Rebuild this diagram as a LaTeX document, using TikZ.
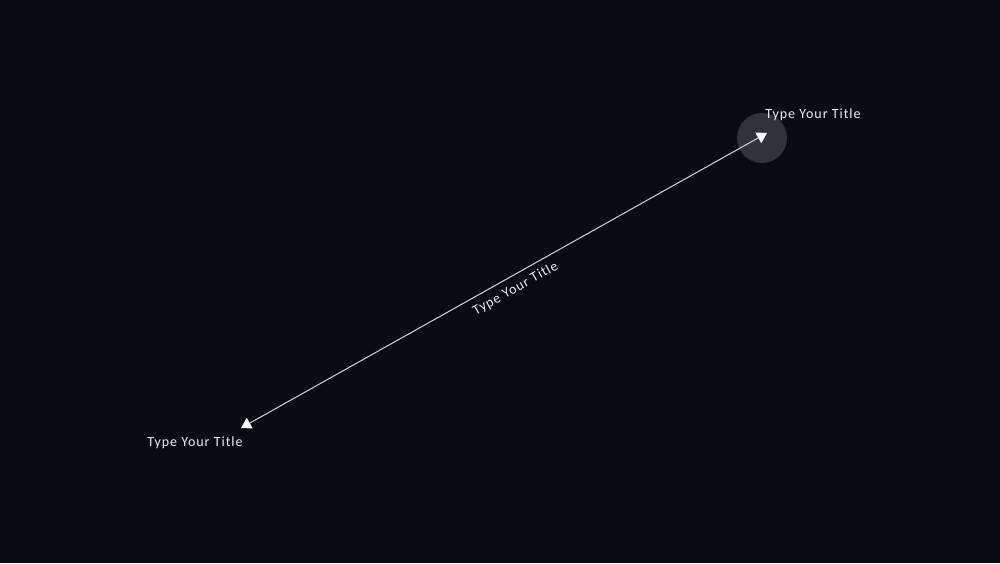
\documentclass[tikz,border=0pt]{standalone}
\usepackage{fontspec}
\setmainfont{Carlito}
\usetikzlibrary{arrows.meta}

\definecolor{bgdark}{HTML}{070C11}
\definecolor{haze}{HTML}{2F3438}
\definecolor{wire}{HTML}{D2D4D6}
\definecolor{ink}{HTML}{ECEDEE}

\begin{document}
\begin{tikzpicture}[x=1pt,y=-1pt,
	title/.style={text=ink, font=\fontsize{14}{16}\selectfont\addfontfeatures{LetterSpace=7}}]

	% ---- frame

	\fill[bgdark] (0,0) rectangle (1000,563);
	\useasboundingbox (0,0) rectangle (1000,563);

	% ---- coordinates

	\coordinate (A) at (241,428);
	\coordinate (B) at (767,133);
	\coordinate (C) at (762,138);

	% ---- halo

	\fill[haze] (C) circle (25pt);

	% ---- arrow

	\draw[wire, line width=1pt, {Triangle[length=10pt,width=12pt,color=white]}-{Triangle[length=10pt,width=12pt,color=white]}]
		(A) -- node[title, pos=0.51, sloped, below=3pt] (mid) {Type Your Title} (B);

	% ---- labels

	\node[title, anchor=base] (top) at (813,118) {Type Your Title};
	\node[title, anchor=base] (bot) at (195,446) {Type Your Title};

\end{tikzpicture}
\end{document}
